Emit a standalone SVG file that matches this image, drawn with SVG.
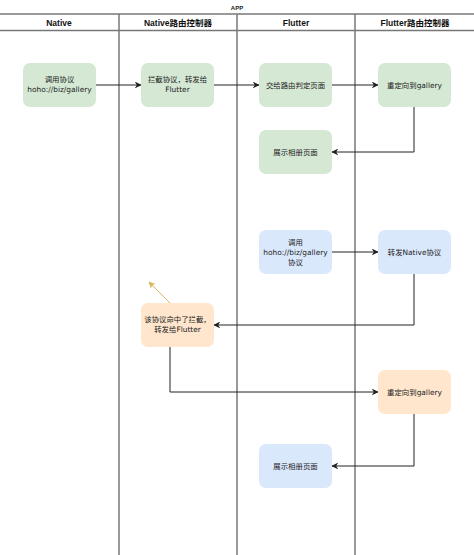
<svg xmlns="http://www.w3.org/2000/svg" width="474" height="555" viewBox="0 0 474 555">
<style>
text{font-family:"Liberation Sans","Noto Sans CJK SC",sans-serif;fill:#222;text-anchor:middle}
.t{font-size:7.4px;font-family:"DejaVu Sans","Noto Sans CJK SC",sans-serif}
.h{font-size:8.5px;font-weight:bold;fill:#111}
.lane{stroke:#777;stroke-width:1.5;fill:none}
.n{stroke:none}
.g{fill:#d5e8d4}.b{fill:#dae8fc}.o{fill:#ffe6cc}
.e{stroke:#222;stroke-width:1;fill:none;marker-end:url(#a)}
</style>
<defs>
<marker id="a" viewBox="0 0 10 10" refX="9" refY="5" markerWidth="7" markerHeight="7" orient="auto" markerUnits="userSpaceOnUse"><path d="M0,0 L10,5 L0,10 L3,5 Z" fill="#222"/></marker>
<marker id="y" viewBox="0 0 10 10" refX="9" refY="5" markerWidth="7" markerHeight="7" orient="auto" markerUnits="userSpaceOnUse"><path d="M0,0 L10,5 L0,10 L3,5 Z" fill="#d6b656"/></marker>
</defs>
<g id="pool">
<rect x="0" y="0" width="474" height="555" fill="#fff"/>
<text x="237" y="10" style="font-size:6px;font-weight:bold">APP</text>
<line class="lane" x1="0" y1="14" x2="474" y2="14"/>
<line class="lane" x1="0" y1="30.5" x2="474" y2="30.5"/>
<line class="lane" x1="119" y1="14" x2="119" y2="555"/>
<line class="lane" x1="237" y1="14" x2="237" y2="555"/>
<line class="lane" x1="355" y1="14" x2="355" y2="555"/>
<text class="h" x="59" y="25.5">Native</text>
<text class="h" x="178" y="25.5">Native路由控制器</text>
<text class="h" x="296" y="25.5">Flutter</text>
<text class="h" x="415" y="25.5">Flutter路由控制器</text>
</g>
<g id="edges">
<path class="e" d="M96,85 L141,85"/>
<path class="e" d="M214,85 L259,85"/>
<path class="e" d="M332,85 L378,85"/>
<path class="e" d="M414,107 L414,152 L332,152"/>
<path class="e" d="M332,252 L378,252"/>
<path class="e" d="M414,273 L414,325 L214,325"/>
<path d="M170,303 L149,282" stroke="#d6b656" stroke-width="1" fill="none" marker-end="url(#y)"/>
<path class="e" d="M170,347 L170,392 L378,392"/>
<path class="e" d="M414,413 L414,466 L332,466"/>
</g>
<g id="n1"><rect class="n g" x="23" y="63" width="73" height="44" rx="7"/><text class="t" x="59.5" y="82">调用协议</text><text class="t" x="59.5" y="92">hoho://biz/gallery</text></g>
<g id="n2"><rect class="n g" x="141" y="63" width="73" height="44" rx="7"/><text class="t" x="177.5" y="82">拦截协议，转发给</text><text class="t" x="177.5" y="92">Flutter</text></g>
<g id="n3"><rect class="n g" x="259" y="63" width="73" height="44" rx="7"/><text class="t" x="295.5" y="88">交给路由判定页面</text></g>
<g id="n4"><rect class="n g" x="378" y="63" width="73" height="44" rx="7"/><text class="t" x="414.5" y="88">重定向到gallery</text></g>
<g id="n5"><rect class="n g" x="259" y="130" width="73" height="44" rx="7"/><text class="t" x="295.5" y="155">展示相册页面</text></g>
<g id="n6"><rect class="n b" x="259" y="230" width="73" height="44" rx="7"/><text class="t" x="295.5" y="245">调用</text><text class="t" x="295.5" y="255">hoho://biz/gallery</text><text class="t" x="295.5" y="265">协议</text></g>
<g id="n7"><rect class="n b" x="378" y="230" width="73" height="44" rx="7"/><text class="t" x="414.5" y="255">转发Native协议</text></g>
<g id="n8"><rect class="n o" x="141" y="303" width="73" height="44" rx="7"/><text class="t" x="177.5" y="322">该协议命中了拦截，</text><text class="t" x="177.5" y="332">转发给Flutter</text></g>
<g id="n9"><rect class="n o" x="378" y="370" width="73" height="44" rx="7"/><text class="t" x="414.5" y="395">重定向到gallery</text></g>
<g id="n10"><rect class="n b" x="259" y="444" width="73" height="44" rx="7"/><text class="t" x="295.5" y="469">展示相册页面</text></g>
</svg>
